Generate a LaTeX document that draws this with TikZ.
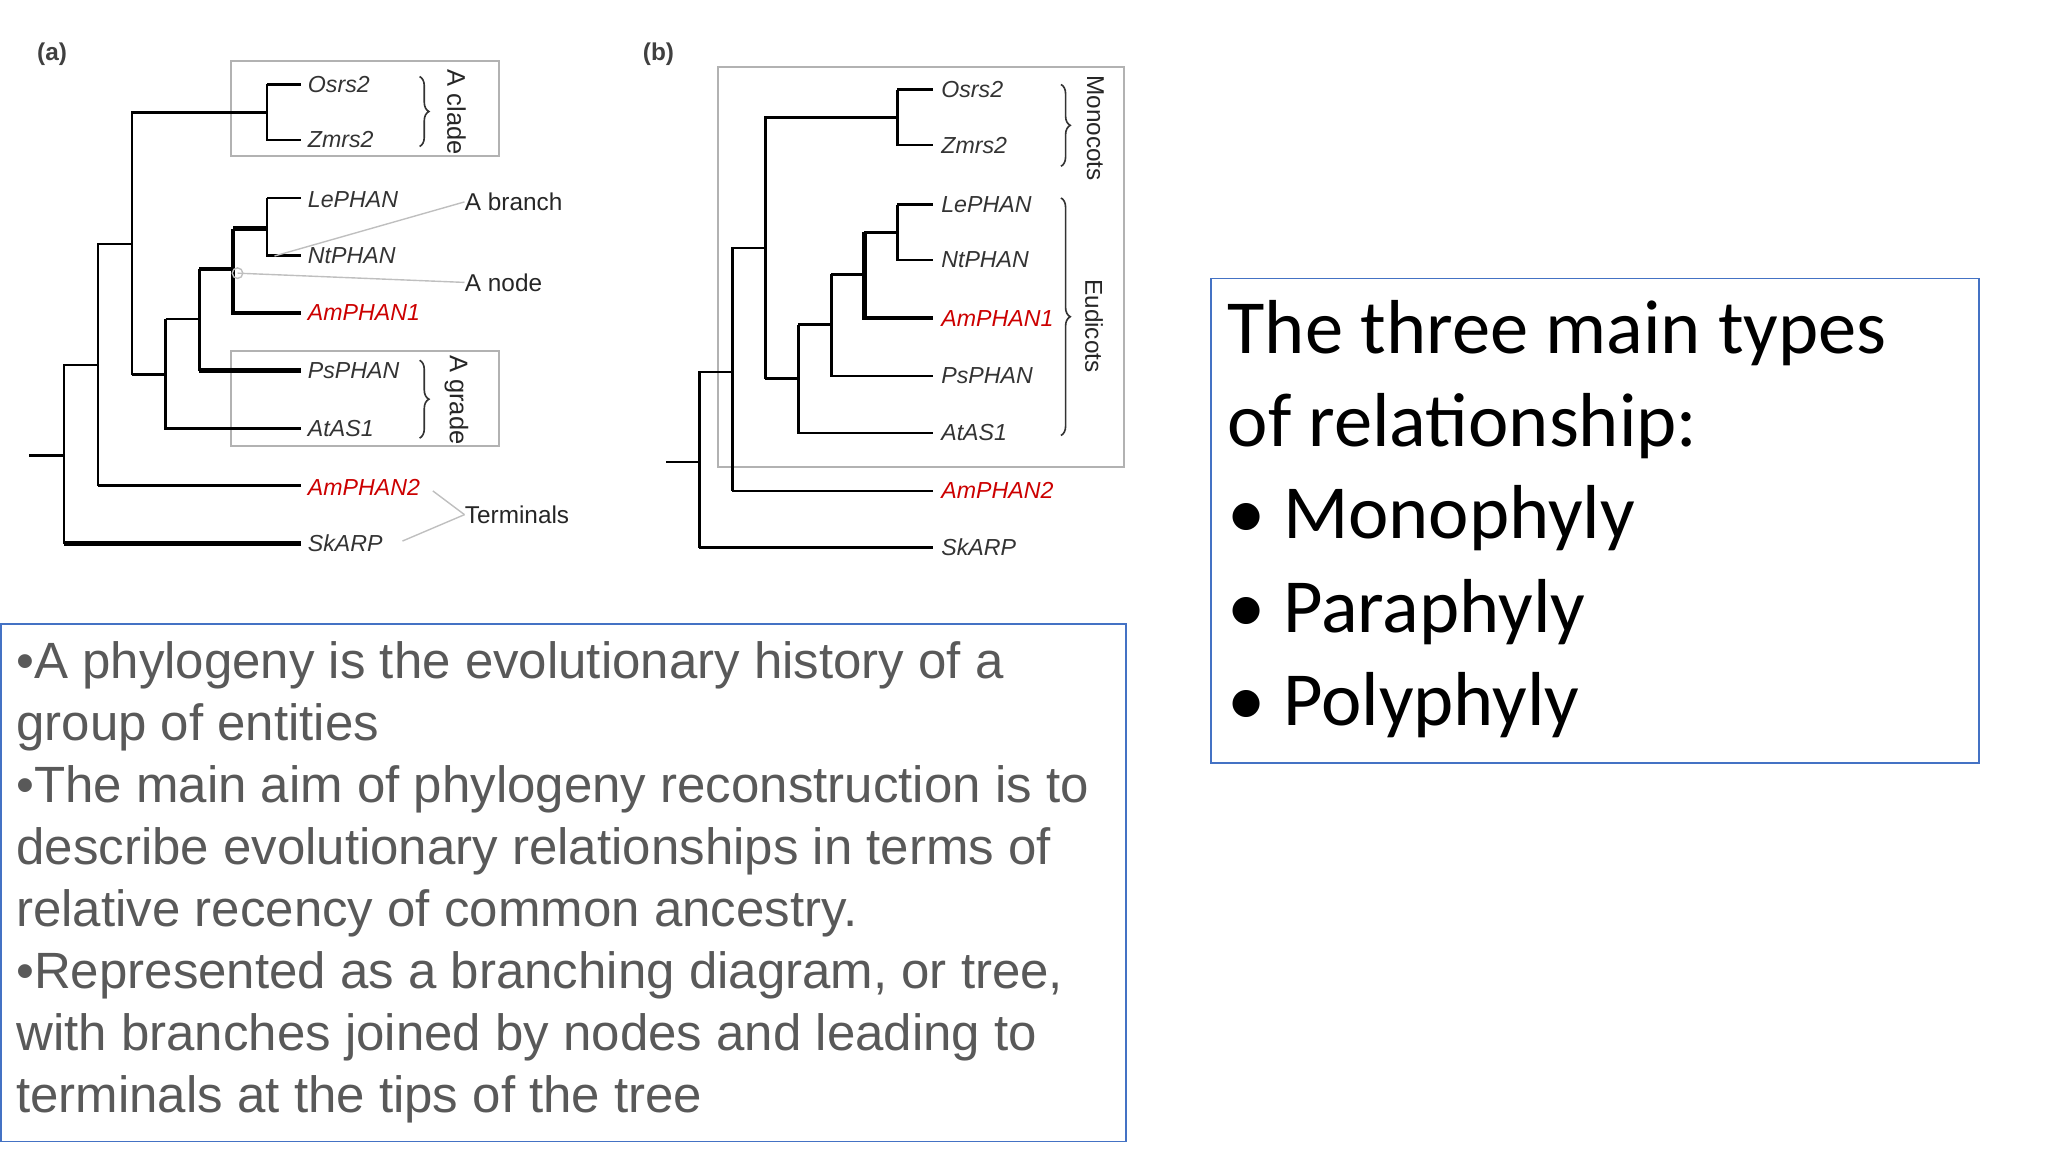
\documentclass[tikz,border=0pt]{standalone}
\usepackage{fontspec}
\setmainfont{Liberation Sans}
\newfontfamily\calib{Carlito}
\usetikzlibrary{decorations.pathreplacing}
\definecolor{boxblue}{RGB}{68,114,196}
\begin{document}
\begin{tikzpicture}[x=0.02cm,y=-0.02cm,
  br/.style={line width=1.1pt,black},
  tk/.style={line width=2pt,black},
  tip/.style={anchor=west,font=\fontsize{10}{12}\selectfont\itshape,text=black!80,inner sep=0pt},
  red tip/.style={tip,text=red!80!black},
  ann/.style={anchor=west,font=\fontsize{10.5}{12}\selectfont,text=black!85,inner sep=0pt},
  gbox/.style={draw=black!30,line width=0.9pt},
  ptr/.style={draw=black!25,line width=0.6pt},
  brc/.style={decorate,decoration={brace,amplitude=4pt},line width=0.7pt,black!80},
  body/.style={anchor=base west,font=\fontsize{22}{26}\selectfont,text=black!65,inner sep=0pt},
  big/.style={anchor=base west,font=\calib\fontsize{33}{38}\selectfont,inner sep=0pt}]
\useasboundingbox (0,0) rectangle (1552,873);
% ---------- tree (a)
\node[anchor=west,font=\fontsize{10.5}{12}\selectfont\bfseries,text=black!75] (la) at (22,41) {(a)};
\draw[gbox] (175,46) rectangle (378,118);
\draw[gbox] (175,266) rectangle (378,338);
\draw[br] (22,345) -- (48.6,345);
\draw[br] (48.6,412) -- (48.6,276.6) -- (74.3,276.6);
\draw[tk] (48.6,412) -- (228,412);
\draw[br] (74.3,368) -- (74.3,184.8) -- (99.9,184.8);
\draw[br] (74.3,368) -- (228,368);
\draw[br] (99.9,284) -- (99.9,85.3) -- (202.4,85.3);
\draw[br] (202.4,64) -- (228,64); \draw[br] (202.4,64) -- (202.4,106.2) -- (228,106.2);
\draw[br] (99.9,284) -- (125.5,284);
\draw[br] (125.5,241.6) -- (125.5,324.6) -- (228,324.6);
\draw[br] (125.5,241.6) -- (151,241.6);
\draw[br] (151,241.6) -- (151,280.9);
\draw[tk] (151,280.9) -- (228,280.9);
\draw[br] (151,241.6) -- (151,203.8);
\draw[tk] (151,203.8) -- (176.7,203.8);
\draw[tk] (176.7,173.2) -- (176.7,237.3) -- (228,237.3);
\draw[tk] (176.7,173.2) -- (202.4,173.2);
\draw[br] (202.4,150) -- (202.4,193.6) -- (228,193.6);
\draw[br] (202.4,150) -- (228,150);
\node[tip] (a1) at (233,64) {Osrs2};
\node[tip] (a2) at (233,106) {Zmrs2};
\node[tip] (a3) at (233,151) {LePHAN};
\node[tip] (a4) at (233,194) {NtPHAN};
\node[red tip] (a5) at (233,237) {AmPHAN1};
\node[tip] (a6) at (233,281) {PsPHAN};
\node[tip] (a7) at (233,325) {AtAS1};
\node[red tip] (a8) at (233,369) {AmPHAN2};
\node[tip] (a9) at (233,412) {SkARP};
\draw[brc] (318,58) -- (318,111);
\draw[brc] (318,273) -- (318,332);
\node[ann,rotate=-90,anchor=center,font=\fontsize{11}{12}\selectfont] (cl) at (346,85) {A clade};
\node[ann,rotate=-90,anchor=center,font=\fontsize{11}{12}\selectfont] (gr) at (346,303) {A grade};
\node[ann] (abr) at (352,153) {A branch};
\node[ann] (an) at (352,214) {A node};
\node[ann] (ter) at (352,390) {Terminals};
\coordinate (bp) at (208,194);
\coordinate (np) at (180,207);
\coordinate (tp1) at (328,372);
\coordinate (tp2) at (305,410);
\draw[ptr] (abr.west) -- (bp);
\draw[ptr] (an.west) -- (np);
\draw[ptr] (np) circle (4);
\draw[ptr] (ter.west) -- (tp1);
\draw[ptr] (ter.west) -- (tp2);
% ---------- tree (b)
\node[anchor=west,font=\fontsize{10.5}{12}\selectfont\bfseries,text=black!75] (lb) at (481,41) {(b)};
\draw[gbox] (544,51) rectangle (852,354);
\draw[br] (505,350) -- (530,350);
\draw[br] (530,415) -- (530,282) -- (555,282);
\draw[br] (530,415) -- (707,415);
\draw[br] (555,372) -- (555,188) -- (580,188);
\draw[br] (555,372) -- (707,372);
\draw[br] (580,287) -- (580,89) -- (680,89);
\draw[br] (680,68) -- (707,68); \draw[br] (680,68) -- (680,110) -- (707,110);
\draw[br] (580,287) -- (605,287);
\draw[br] (605,246) -- (605,328) -- (707,328);
\draw[br] (605,246) -- (630,246);
\draw[br] (630,208) -- (630,285) -- (707,285);
\draw[br] (630,208) -- (655,208);
\draw[tk] (655,176) -- (655,241) -- (707,241);
\draw[br] (655,176) -- (680,176);
\draw[br] (680,155) -- (680,197) -- (707,197);
\draw[br] (680,155) -- (707,155);
\node[tip] (b1) at (713,68) {Osrs2};
\node[tip] (b2) at (713,110) {Zmrs2};
\node[tip] (b3) at (713,155) {LePHAN};
\node[tip] (b4) at (713,197) {NtPHAN};
\node[red tip] (b5) at (713,241) {AmPHAN1};
\node[tip] (b6) at (713,285) {PsPHAN};
\node[tip] (b7) at (713,328) {AtAS1};
\node[red tip] (b8) at (713,372) {AmPHAN2};
\node[tip] (b9) at (713,415) {SkARP};
\draw[brc] (804,64) -- (804,126);
\draw[brc] (804,150) -- (804,330);
\node[ann,rotate=-90,anchor=center] (mono) at (830,97) {Monocots};
\node[ann,rotate=-90,anchor=center] (eudi) at (829,247) {Eudicots};
% ---------- left text box
\draw[draw=boxblue,line width=0.8pt] (1,473) rectangle (853,865);
\node[body] (t1) at (12,514) {•A phylogeny is the evolutionary history of a};
\node[body] (t2) at (12,561) {group of entities};
\node[body] (t3) at (12,608) {•The main aim of phylogeny reconstruction is to};
\node[body] (t4) at (12,655) {describe evolutionary relationships in terms of};
\node[body] (t5) at (12,702) {relative recency of common ancestry.};
\node[body] (t6) at (12,749) {•Represented as a branching diagram, or tree,};
\node[body] (t7) at (12,796) {with branches joined by nodes and leading to};
\node[body] (t8) at (12,843) {terminals at the tips of the tree};
% ---------- right text box
\draw[draw=boxblue,line width=0.8pt] (918,211) rectangle (1500,578);
\node[big] (r1) at (930,268) {The three main types};
\node[big] (r2) at (930,338) {of relationship:};
\node[big] (r3) at (930,408) {• Monophyly};
\node[big] (r4) at (930,479) {• Paraphyly};
\node[big] (r5) at (930,550) {• Polyphyly};
\end{tikzpicture}
\end{document}
